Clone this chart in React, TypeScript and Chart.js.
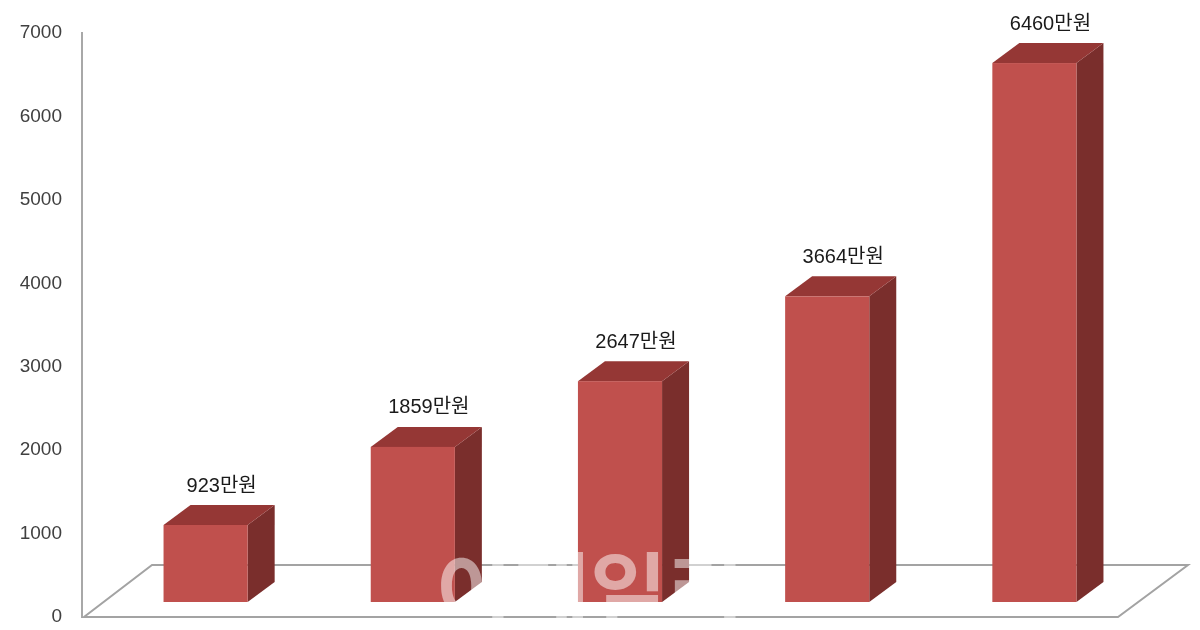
import React, { useEffect, useRef } from 'react';
import { Chart, registerables } from 'chart.js';

Chart.register(...registerables);

const categories = ['1', '2', '3', '4', '5'];
const values = [923, 1859, 2647, 3664, 6460];
const valueLabels = ['923만원', '1859만원', '2647만원', '3664만원', '6460만원'];
const yMin = 0;
const yMax = 7000;
const yStep = 1000;
const watermarkText = '이데일리';

const FRONT = '#c0504d';
const TOP = '#953735';
const SIDE = '#7a2e2c';

const threeD = {
  id: 'threeD',
  beforeDatasetsDraw(chart: any) {
    const { ctx, chartArea } = chart;
    const dx = 70;
    const dy = -52;
    ctx.save();
    ctx.strokeStyle = '#a3a3a3';
    ctx.lineWidth = 2;
    ctx.beginPath();
    ctx.moveTo(chartArea.left + 2, chartArea.bottom);
    ctx.lineTo(chartArea.right, chartArea.bottom);
    ctx.lineTo(chartArea.right + dx, chartArea.bottom + dy);
    ctx.lineTo(chartArea.left + dx, chartArea.bottom + dy);
    ctx.closePath();
    ctx.stroke();
    ctx.restore();
  },
  afterDatasetsDraw(chart: any) {
    const { ctx, chartArea } = chart;
    const meta = chart.getDatasetMeta(0);
    const offX = 20;
    const offY = -15;
    const ddx = 27;
    const ddy = -20;
    ctx.save();
    meta.data.forEach((el: any, i: number) => {
      const { x, y, base, width } = el.getProps(['x', 'y', 'base', 'width'], true);
      const l = x - width / 2 + offX;
      const r = x + width / 2 + offX;
      const t = y + offY;
      const b = base + offY;
      // side
      ctx.fillStyle = SIDE;
      ctx.beginPath();
      ctx.moveTo(r, t);
      ctx.lineTo(r + ddx, t + ddy);
      ctx.lineTo(r + ddx, b + ddy);
      ctx.lineTo(r, b);
      ctx.closePath();
      ctx.fill();
      // top
      ctx.fillStyle = TOP;
      ctx.beginPath();
      ctx.moveTo(l, t);
      ctx.lineTo(l + ddx, t + ddy);
      ctx.lineTo(r + ddx, t + ddy);
      ctx.lineTo(r, t);
      ctx.closePath();
      ctx.fill();
      // front
      ctx.fillStyle = FRONT;
      ctx.fillRect(l, t, r - l, b - t);
      // label
      ctx.fillStyle = '#1a1a1a';
      ctx.font = '20px "Liberation Sans", "Noto Sans CJK KR", sans-serif';
      ctx.textAlign = 'center';
      ctx.textBaseline = 'middle';
      ctx.fillText(valueLabels[i], (l + r) / 2 + 16, t + ddy - 19);
    });
    // watermark
    ctx.font = 'bold 84px "Noto Sans CJK KR", sans-serif';
    ctx.textAlign = 'center';
    ctx.textBaseline = 'top';
    ctx.fillStyle = 'rgba(255,255,255,0.5)';
    ctx.fillText(watermarkText, (chartArea.left + chartArea.right) / 2 - 10, chartArea.bottom - 68);
    ctx.restore();
  },
};

export default function App() {
  const ref = useRef<HTMLCanvasElement | null>(null);
  useEffect(() => {
    document.body.style.margin = '0';
    const canvas = ref.current;
    if (!canvas) return;
    const chart = new Chart(canvas, {
      type: 'bar',
      data: {
        labels: categories,
        datasets: [
          {
            data: values,
            backgroundColor: 'rgba(0,0,0,0)',
            borderWidth: 0,
            barPercentage: 0.406,
            categoryPercentage: 1,
          },
        ],
      },
      options: {
        responsive: true,
        maintainAspectRatio: false,
        animation: false,
        layout: { padding: { top: 33, bottom: 13, left: 0, right: 82 } },
        plugins: {
          legend: { display: false },
          tooltip: { enabled: false },
        },
        scales: {
          x: { display: false },
          y: {
            min: yMin,
            max: yMax,
            ticks: {
              stepSize: yStep,
              padding: 0,
              color: '#404040',
              font: { family: '"Liberation Sans", sans-serif', size: 19 },
              callback: (v: any) => String(v),
            },
            grid: { display: false, drawTicks: true, tickLength: 20 },
            border: { display: true, color: '#a8a8a8', width: 2 },
            afterFit: (scale: any) => {
              scale.width = 82;
            },
          },
        },
      },
      plugins: [threeD],
    });
    return () => chart.destroy();
  }, []);
  return (
    <div style={{ position: 'relative', width: 1200, height: 630, background: '#fff' }}>
      <canvas ref={ref} />
    </div>
  );
}
